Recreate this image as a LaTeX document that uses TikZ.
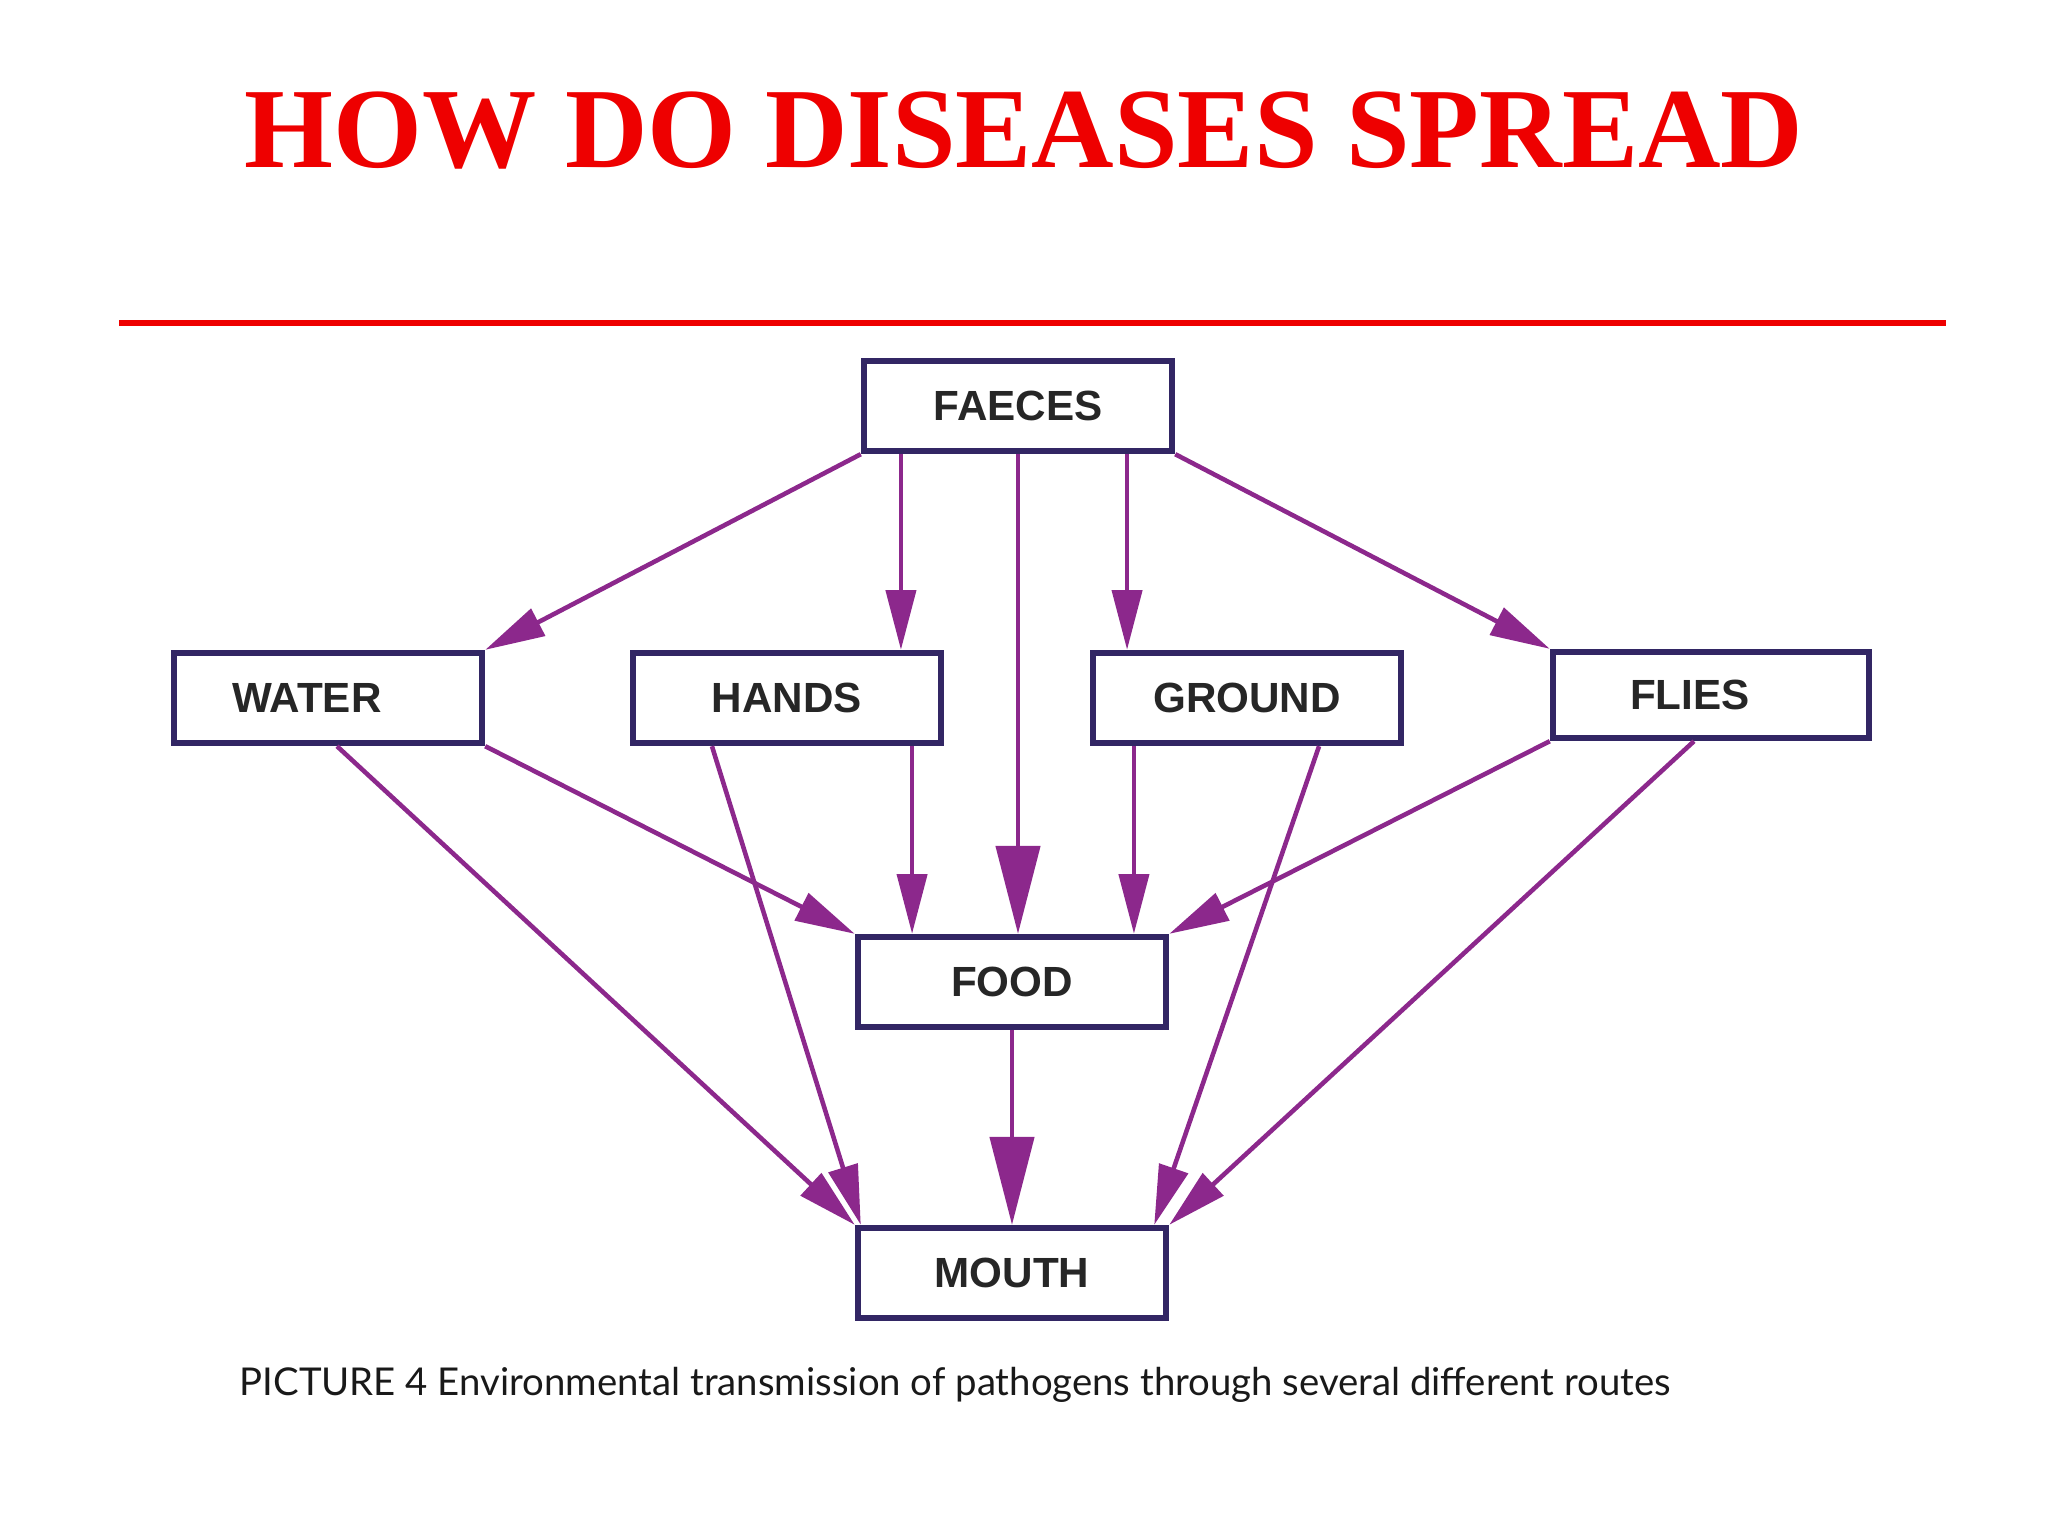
\documentclass[tikz,border=0pt]{standalone}
\usepackage{fontspec}
\usetikzlibrary{arrows.meta}
\newfontfamily\titlefont{Liberation Serif}
\newfontfamily\boxfont{Liberation Sans}
\newfontfamily\capfont{Lato}
\definecolor{titlered}{RGB}{238,0,0}
\definecolor{boxedge}{RGB}{50,38,100}
\definecolor{arrowpurple}{RGB}{140,40,140}

\begin{document}
\begin{tikzpicture}[x=0.01cm, y=-0.01cm,
  box/.style={rectangle, draw=boxedge, line width=1.8pt, fill=white, minimum width=3.08cm, minimum height=0.9cm, inner sep=0pt, font=\boxfont\bfseries\fontsize{12}{14}\selectfont, text=black!85},
  arr/.style={draw=arrowpurple, line width=1.3pt, -{Triangle[length=17pt, width=8.5pt]}},
  bigarr/.style={arr, -{Triangle[length=25pt, width=12.5pt]}}]
\useasboundingbox (0,0) rectangle (2048,1536);
\node[font=\titlefont\bfseries\fontsize{32.5}{36}\selectfont, text=titlered] (title) at (1024,131) {HOW DO DISEASES SPREAD};
\draw[titlered, line width=1.8pt] (119,323) -- (1946,323);

\node[box] (faeces) at (1018,406) {FAECES};
\node[box] (water) at (328,698) {\hspace*{-12pt}WATER};
\node[box] (hands) at (787,698) {HANDS};
\node[box] (ground) at (1247,698) {GROUND};
\node[box, minimum width=3.16cm, minimum height=0.86cm] (flies) at (1711,695) {\hspace*{-12pt}FLIES};
\node[box] (food) at (1012,982) {FOOD};
\node[box] (mouth) at (1012,1273) {MOUTH};

\draw[arr] (faeces.south west) -- (water.north east);
\draw[arr] ([xshift=-1.17cm]faeces.south) coordinate (fh) -- (fh |- hands.north);
\draw[bigarr] (faeces.south) -- (faeces.south |- food.north);
\draw[arr] ([xshift=1.09cm]faeces.south) coordinate (fg) -- (fg |- ground.north);
\draw[arr] (faeces.south east) -- (flies.north west);
\draw[arr] (water.south east) -- (food.north west);
\draw[arr] ([xshift=0.09cm]water.south) -- (mouth.north west);
\draw[arr] ([xshift=1.25cm]hands.south) coordinate (hf) -- (hf |- food.north);
\draw[arr] ([xshift=-0.75cm]hands.south) -- ([xshift=0.06cm]mouth.north west);
\draw[arr] ([xshift=-1.13cm]ground.south) coordinate (gf) -- (gf |- food.north);
\draw[arr] ([xshift=0.72cm]ground.south) -- ([xshift=-0.15cm]mouth.north east);
\draw[arr] (flies.south west) -- (food.north east);
\draw[arr] ([xshift=-0.17cm]flies.south) -- (mouth.north east);
\draw[bigarr] (food.south) -- (mouth.north);

\node[anchor=base west, inner sep=0pt, font=\capfont\fontsize{10.9}{13}\selectfont, text=black!90] (caption) at (239,1395) {PICTURE 4 Environmental transmission of pathogens through several different routes};
\end{tikzpicture}
\end{document}
